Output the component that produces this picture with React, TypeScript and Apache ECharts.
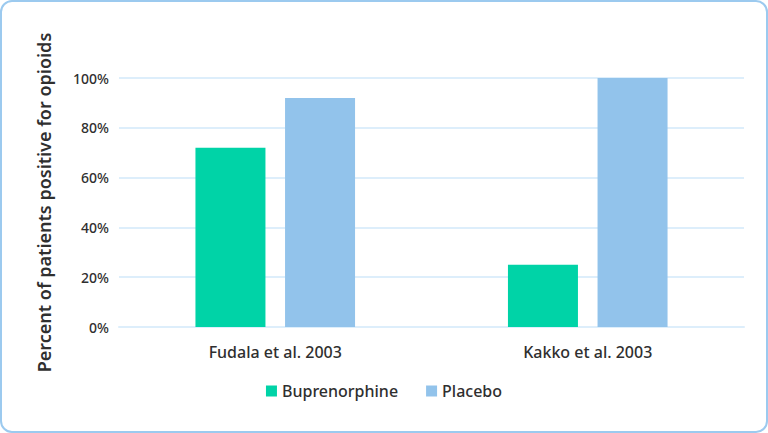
import * as echarts from 'echarts';
import { useEffect, useRef } from 'react';

const categories = ['Fudala et al. 2003', 'Kakko et al. 2003'];
const buprenorphine = [72, 25];
const placebo = [92, 100];
const yTicks = [0, 20, 40, 60, 80, 100];

const FONT = '"Noto Sans", "Open Sans", sans-serif';

export default function App() {
  const chartRef = useRef<HTMLDivElement>(null);

  useEffect(() => {
    document.body.style.margin = '0';
    if (!chartRef.current) return;
    const chart = echarts.init(chartRef.current, undefined, { renderer: 'svg' });

    chart.setOption({
      animation: false,
      textStyle: { fontFamily: FONT },
      grid: { left: 117, right: 22, top: 76, bottom: 104, containLabel: false },
      legend: {
        data: ['Buprenorphine', 'Placebo'],
        bottom: 27,
        left: 'center',
        itemWidth: 11,
        itemHeight: 11,
        itemGap: 28,
        icon: 'rect',
        textStyle: { fontFamily: FONT, fontSize: 16, fontWeight: 500, color: '#2f2f2f' },
      },
      xAxis: {
        type: 'category',
        data: categories,
        axisLine: { lineStyle: { color: '#ddeefb', width: 2 } },
        axisTick: { show: false },
        axisLabel: { margin: 17, fontSize: 16, fontWeight: 500, color: '#2f2f2f', fontFamily: FONT },
      },
      yAxis: {
        type: 'value',
        min: yTicks[0],
        max: yTicks[yTicks.length - 1],
        interval: 20,
        name: 'Percent of patients positive for opioids',
        nameLocation: 'middle',
        nameGap: 66,
        nameTextStyle: { fontSize: 18, fontWeight: 600, color: '#2f2f2f', fontFamily: FONT },
        axisLabel: {
          formatter: '{value}%',
          margin: 10,
          fontSize: 14,
          fontWeight: 500,
          color: '#2f2f2f',
          fontFamily: FONT,
        },
        splitLine: { lineStyle: { color: '#ddeefb', width: 2 } },
      },
      series: [
        {
          name: 'Buprenorphine',
          type: 'bar',
          data: buprenorphine,
          barWidth: '22.4%',
          barGap: '28%',
          itemStyle: { color: '#00d3a7' },
        },
        {
          name: 'Placebo',
          type: 'bar',
          data: placebo,
          barWidth: '22.4%',
          itemStyle: { color: '#92c3eb' },
        },
      ],
    });

    return () => chart.dispose();
  }, []);

  return (
    <div
      style={{
        position: 'fixed',
        left: 0,
        top: 0,
        width: 768,
        height: 433,
        boxSizing: 'border-box',
        border: '2px solid #9ccaef',
        borderRadius: 12,
        background: '#fff',
      }}
    >
      <div ref={chartRef} style={{ width: 764, height: 429 }} />
    </div>
  );
}
